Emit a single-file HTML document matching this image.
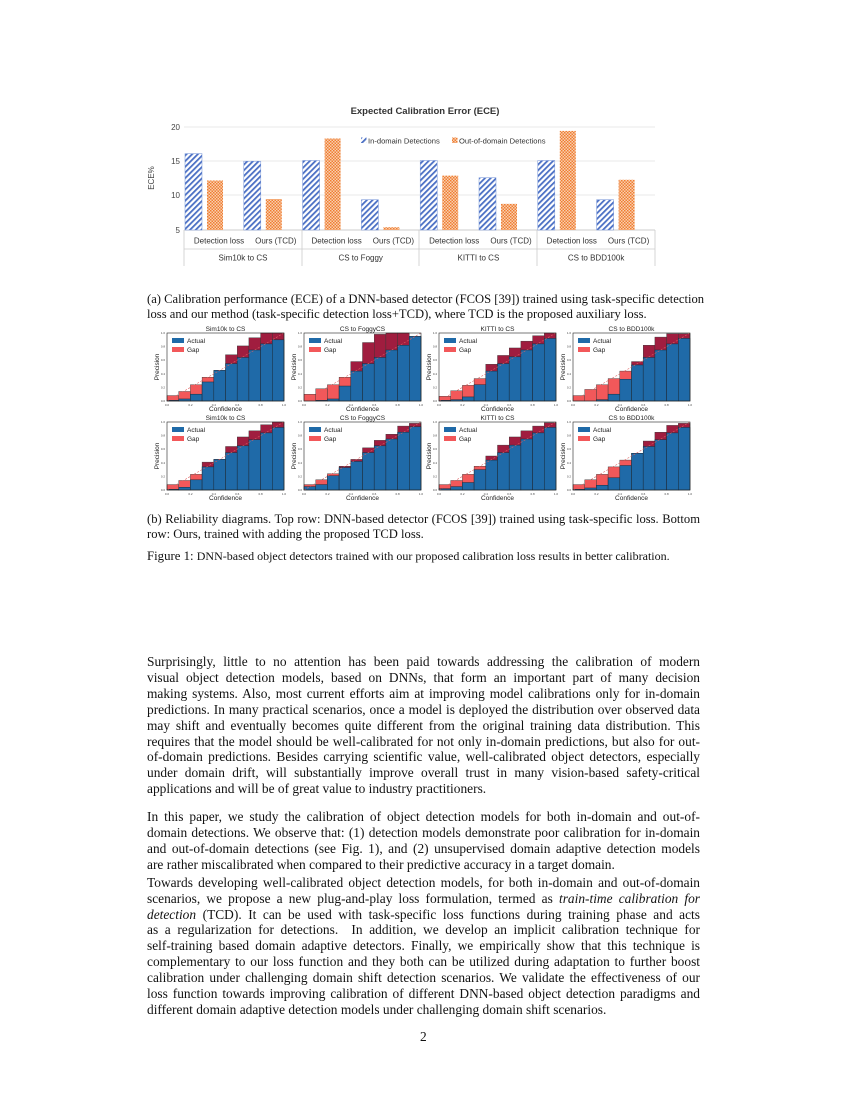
<!DOCTYPE html>
<html><head><meta charset="utf-8">
<style>
body{margin:0;background:#fff;width:850px;height:1100px;position:relative;overflow:hidden;font-family:"Liberation Serif",serif;color:#111}
.ln{position:absolute;left:147px;width:553px;white-space:nowrap;text-align:justify;text-align-last:justify;font-size:13.4px;line-height:16px}
.ln.l{text-align-last:left}
.cap{position:absolute;left:147px;width:553px;white-space:nowrap;text-align:justify;text-align-last:justify;font-size:12.6px;line-height:15px}
.cap.l{text-align-last:left}
svg text{font-family:"Liberation Sans",sans-serif}
</style></head><body>
<svg width="850" height="1100" style="position:absolute;left:0;top:0">
<defs>
<pattern id="hb" width="4" height="4" patternUnits="userSpaceOnUse" patternTransform="rotate(45)">
<rect width="4" height="4" fill="#fff"/><rect width="1.8" height="4" fill="#4a6fc4"/></pattern>
<pattern id="ch" width="3" height="3" patternUnits="userSpaceOnUse">
<rect width="3" height="3" fill="#f8d0b0"/><rect width="1.5" height="1.5" fill="#ef7d32"/><rect x="1.5" y="1.5" width="1.5" height="1.5" fill="#ef7d32"/></pattern>
</defs>
<text x="425" y="114" font-size="9.5" font-weight="bold" text-anchor="middle" fill="#333">Expected Calibration Error (ECE)</text>
<g stroke="#e2e2e2" stroke-width="0.8"><line x1="184" x2="655" y1="127" y2="127"/><line x1="184" x2="655" y1="161" y2="161"/><line x1="184" x2="655" y1="195" y2="195"/></g>
<line x1="184" x2="655" y1="230" y2="230" stroke="#ccc"/>
<g font-size="8" fill="#444" text-anchor="end"><text x="180" y="130">20</text><text x="180" y="164">15</text><text x="180" y="198">10</text><text x="180" y="233">5</text></g>
<text x="0" y="0" font-size="8" fill="#444" transform="translate(154,178) rotate(-90)" text-anchor="middle">ECE%</text>
<rect x="361" y="137.5" width="5.5" height="5.5" fill="url(#hb)"/><text x="368" y="143.5" font-size="7.6" fill="#333">In-domain Detections</text>
<rect x="452" y="137.5" width="5.5" height="5.5" fill="url(#ch)"/><text x="459" y="143.5" font-size="7.6" fill="#333">Out-of-domain Detections</text>
<g id="bars"></g>
<g stroke="#ccc" stroke-width="0.8"><line x1="184" x2="184" y1="230" y2="266"/><line x1="302" x2="302" y1="230" y2="266"/><line x1="419" x2="419" y1="230" y2="266"/><line x1="537" x2="537" y1="230" y2="266"/><line x1="655" x2="655" y1="230" y2="266"/><line x1="184" x2="655" y1="249" y2="249"/></g>
<g font-size="8" fill="#333" text-anchor="middle" id="blab"></g>
<g id="rel"></g>
</svg>

<div class="cap" style="top:292px">(a) Calibration performance (ECE) of a DNN-based detector (FCOS [39]) trained using task-specific detection</div>
<div class="cap l" style="top:307px">loss and our method (task-specific detection loss+TCD), where TCD is the proposed auxiliary loss.</div>
<div class="cap" style="top:512px">(b) Reliability diagrams. Top row: DNN-based detector (FCOS [39]) trained using task-specific loss. Bottom</div>
<div class="cap l" style="top:527px">row: Ours, trained with adding the proposed TCD loss.</div>
<div class="cap l" style="top:549px;font-size:12.8px">Figure 1: <span style="font-size:12px">DNN-based object detectors trained with our proposed calibration loss results in better calibration.</span></div>

<div class="ln" style="top:654px">Surprisingly, little to no attention has been paid towards addressing the calibration of modern</div>
<div class="ln" style="top:670px">visual object detection models, based on DNNs, that form an important part of many decision</div>
<div class="ln" style="top:686px">making systems. Also, most current efforts aim at improving model calibrations only for in-domain</div>
<div class="ln" style="top:702px">predictions. In many practical scenarios, once a model is deployed the distribution over observed data</div>
<div class="ln" style="top:718px">may shift and eventually becomes quite different from the original training data distribution. This</div>
<div class="ln" style="top:734px">requires that the model should be well-calibrated for not only in-domain predictions, but also for out-</div>
<div class="ln" style="top:749px">of-domain predictions. Besides carrying scientific value, well-calibrated object detectors, especially</div>
<div class="ln" style="top:765px">under domain drift, will substantially improve overall trust in many vision-based safety-critical</div>
<div class="ln l" style="top:781px">applications and will be of great value to industry practitioners.</div>

<div class="ln" style="top:809px">In this paper, we study the calibration of object detection models for both in-domain and out-of-</div>
<div class="ln" style="top:825px">domain detections. We observe that: (1) detection models demonstrate poor calibration for in-domain</div>
<div class="ln" style="top:841px">and out-of-domain detections (see Fig. 1), and (2) unsupervised domain adaptive detection models</div>
<div class="ln l" style="top:857px">are rather miscalibrated when compared to their predictive accuracy in a target domain.</div>

<div class="ln" style="top:875px">Towards developing well-calibrated object detection models, for both in-domain and out-of-domain</div>
<div class="ln" style="top:891px">scenarios, we propose a new plug-and-play loss formulation, termed as <i>train-time calibration for</i></div>
<div class="ln" style="top:907px"><i>detection</i> (TCD). It can be used with task-specific loss functions during training phase and acts</div>
<div class="ln" style="top:922px">as a regularization for detections. &nbsp;In addition, we develop an implicit calibration technique for</div>
<div class="ln" style="top:938px">self-training based domain adaptive detectors. Finally, we empirically show that this technique is</div>
<div class="ln" style="top:954px">complementary to our loss function and they both can be utilized during adaptation to further boost</div>
<div class="ln" style="top:970px">calibration under challenging domain shift detection scenarios. We validate the effectiveness of our</div>
<div class="ln" style="top:986px">loss function towards improving calibration of different DNN-based object detection paradigms and</div>
<div class="ln l" style="top:1002px">different domain adaptive detection models under challenging domain shift scenarios.</div>

<div style="position:absolute;left:420px;top:1029px;font-size:13.4px">2</div>

<script>
var NS="http://www.w3.org/2000/svg";
function el(p,t,a,txt){var e=document.createElementNS(NS,t);for(var k in a)e.setAttribute(k,a[k]);if(txt!==undefined)e.textContent=txt;p.appendChild(e);return e;}
var vals=[[16.1,12.2],[15,9.5],[15.1,18.3],[9.4,5.4],[15.1,12.9],[12.6,8.8],[15.1,19.4],[9.4,12.3]];
var bars=document.getElementById("bars"),bl=document.getElementById("blab");
function Y(v){return 230-(v-5)*6.88;}
vals.forEach(function(v,i){var x0=184+i*58.8;
 el(bars,"rect",{x:x0+1,y:Y(v[0]),width:17,height:230-Y(v[0]),fill:"url(#hb)",stroke:"#6f8fd6","stroke-width":0.5});
 el(bars,"rect",{x:x0+23,y:Y(v[1]),width:16,height:230-Y(v[1]),fill:"url(#ch)"});
 el(bl,"text",{x:x0+(i%2?33:35),y:243.5},i%2?"Ours (TCD)":"Detection loss");
});
["Sim10k to CS","CS to Foggy","KITTI to CS","CS to BDD100k"].forEach(function(s,i){el(bl,"text",{x:243+i*117.7,y:260.5},s);});
var P=[
 {x:167,y:333,t:"Sim10k to CS",a:[.01,.03,.1,.28,.45,.55,.64,.75,.84,.9],g:[.08,.14,.24,.35,.45,.68,.81,.93,1,1],d:5},
 {x:304,y:333,t:"CS to FoggyCS",a:[0,.01,.03,.22,.44,.55,.64,.75,.82,.95],g:[.1,.18,.24,.35,.58,.86,.98,1,1,.95],d:4},
 {x:439,y:333,t:"KITTI to CS",a:[.01,.02,.06,.24,.44,.55,.65,.75,.84,.92],g:[.07,.15,.23,.33,.54,.67,.78,.88,.96,1],d:4},
 {x:573,y:333,t:"CS to BDD100k",a:[0,0,.02,.1,.32,.53,.64,.75,.84,.92],g:[.08,.17,.24,.33,.44,.58,.82,.94,.99,.99],d:5},
 {x:167,y:422,t:"Sim10k to CS",a:[.01,.04,.15,.34,.45,.55,.65,.74,.84,.92],g:[.08,.14,.23,.41,.45,.64,.78,.87,.96,1],d:3},
 {x:304,y:422,t:"CS to FoggyCS",a:[.05,.08,.21,.33,.42,.55,.65,.75,.85,.93],g:[.08,.15,.24,.35,.45,.62,.73,.82,.94,.98],d:3},
 {x:439,y:422,t:"KITTI to CS",a:[.02,.05,.11,.3,.44,.55,.66,.75,.84,.92],g:[.08,.14,.23,.35,.5,.66,.78,.87,.94,.99],d:4},
 {x:573,y:422,t:"CS to BDD100k",a:[.01,.03,.07,.18,.36,.54,.64,.74,.84,.92],g:[.08,.15,.23,.34,.44,.54,.72,.85,.95,.98],d:6}];
var R=document.getElementById("rel"),W=117,H=68;
P.forEach(function(p){
 var g=el(R,"g",{transform:"translate("+p.x+","+p.y+")"});
 el(g,"text",{x:W/2,y:-2,"font-size":6.5,"text-anchor":"middle",fill:"#222"},p.t);
 var bw=W/10;
 for(var i=0;i<10;i++){
  var top=Math.max(p.a[i],p.g[i]);
  el(g,"rect",{x:i*bw,y:H-top*H,width:bw,height:top*H,fill:i<p.d?"#f2585a":"#a01d3f",stroke:"#333","stroke-width":0.4});
  el(g,"rect",{x:i*bw,y:H-p.a[i]*H,width:bw,height:p.a[i]*H,fill:"#1f6aa8",stroke:"#1a2a3a","stroke-width":0.5});
 }
 el(g,"line",{x1:0,y1:H,x2:W,y2:0,stroke:"#e06060","stroke-width":0.6,"stroke-dasharray":"2,1.5"});
 el(g,"rect",{x:0,y:0,width:W,height:H,fill:"none",stroke:"#222","stroke-width":0.6});
 el(g,"rect",{x:5,y:5,width:12,height:5,fill:"#1f6aa8"});
 el(g,"text",{x:20,y:10,"font-size":6.5,fill:"#222"},"Actual");
 el(g,"rect",{x:5,y:14,width:12,height:5,fill:"#f2585a"});
 el(g,"text",{x:20,y:19,"font-size":6.5,fill:"#222"},"Gap");
 ["0.0","0.2","0.4","0.6","0.8","1.0"].forEach(function(s,k){
  el(g,"text",{x:-2,y:H-k*H/5+1,"font-size":3,"text-anchor":"end",fill:"#444"},s);
  el(g,"text",{x:k*W/5,y:H+5,"font-size":3,"text-anchor":"middle",fill:"#444"},s);
 });
 el(g,"text",{x:W/2,y:H+10,"font-size":6.5,"text-anchor":"middle",fill:"#222"},"Confidence");
 el(g,"text",{x:0,y:0,"font-size":6.5,"text-anchor":"middle",fill:"#222",transform:"translate(-8,"+(H/2)+") rotate(-90)"},"Precision");
});
</script>
</body></html>
